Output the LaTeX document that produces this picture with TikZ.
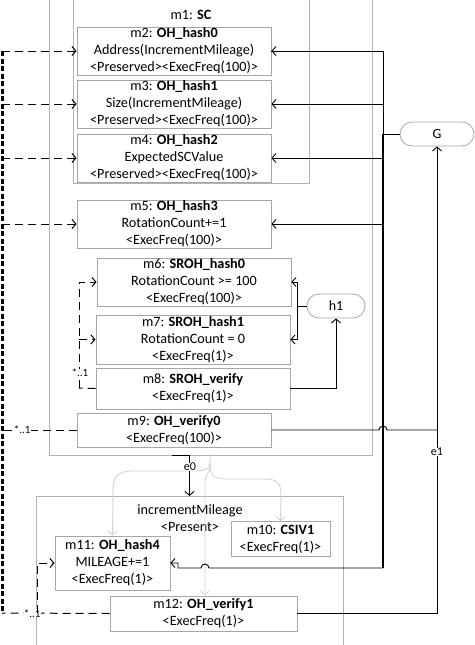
\documentclass[tikz,border=0pt]{standalone}
\usepackage{fontspec}
\setmainfont{Carlito}
\usepackage{tikz}
\usetikzlibrary{arrows.meta, positioning, calc}
\tikzset{
  mbox/.style={
    draw=gray!70, fill=white, align=center, line width=0.8pt,
    inner sep=0pt, minimum width=194, minimum height=48,
    font=\fontsize{14.2}{17}\selectfont
  },
  groupbox/.style={draw=gray!60, line width=0.8pt, inner sep=0pt, outer sep=0pt},
  grouptitle/.style={align=center, inner sep=0pt, font=\fontsize{14.2}{17}\selectfont},
  pill/.style={
    draw=gray!70, fill=white, line width=0.8pt, rounded corners=12pt,
    minimum height=24, font=\fontsize{14}{15}\selectfont
  },
  link/.style={line width=0.9pt},
  linkarrow/.style={link, -{Straight Barb[length=4pt,width=9pt]}},
  deplink/.style={line width=1pt, dash pattern=on 8pt off 5pt},
  deparrow/.style={deplink, -{Straight Barb[length=4pt,width=9pt]}},
  depbus/.style={line width=3pt, dash pattern=on 5pt off 2.5pt},
  flowarrow/.style={draw=gray!35, line width=0.9pt, -{Straight Barb[length=4pt,width=9pt]}},
  edgelabel/.style={font=\fontsize{12}{13}\selectfont, fill=white, inner sep=0.5pt},
  multlabel/.style={font=\fontsize{11}{12}\selectfont, fill=white, inner sep=0.3pt},
}

\begin{document}
\begin{tikzpicture}[x=1pt, y=-1pt]
  \useasboundingbox (0,0) rectangle (474,645);
  \clip (0,0) rectangle (474,645);

  % Containers
  \node[groupbox, minimum width=323, minimum height=475] (scouter) at (210.5,217.5) {};
  \node[groupbox, minimum width=236, minimum height=203] (scinner) at (191,81.5) {};
  \node[grouptitle] (sctitle) at (191,15) {m1: \textbf{SC}};
  \node[groupbox, minimum width=307, minimum height=169] (incbox) at (189.5,580.5) {};
  \node[grouptitle] (inctitle) at (190,518.5) {incrementMileage\\<Present>};

  % Members of SC
  \node[mbox] (m2) at (174,51) {m2: \textbf{OH\_hash0}\\Address(IncrementMileage)\\<Preserved><ExecFreq(100)>};
  \node[mbox] (m3) at (174,104) {m3: \textbf{OH\_hash1}\\Size(IncrementMileage)\\<Preserved><ExecFreq(100)>};
  \node[mbox] (m4) at (174,158) {m4: \textbf{OH\_hash2}\\ExpectedSCValue\\<Preserved><ExecFreq(100)>};
  \node[mbox] (m5) at (174,224) {m5: \textbf{OH\_hash3}\\RotationCount+=1\\<ExecFreq(100)>};
  \node[mbox] (m6) at (194,282) {m6: \textbf{SROH\_hash0}\\RotationCount >= 100\\<ExecFreq(100)>};
  \node[mbox, minimum height=49] (m7) at (193,339.5) {m7: \textbf{SROH\_hash1}\\RotationCount = 0\\<ExecFreq(1)>};
  \node[mbox, minimum height=41] (m8) at (193,388.5) {m8: \textbf{SROH\_verify}\\<ExecFreq(1)>};
  \node[mbox, minimum height=34] (m9) at (174,430) {m9: \textbf{OH\_verify0}\\<ExecFreq(100)>};

  % Members of incrementMileage
  \node[mbox, minimum width=99, minimum height=35] (m10) at (280.5,539) {m10: \textbf{CSIV1}\\<ExecFreq(1)>};
  \node[mbox, minimum width=115, minimum height=54] (m11) at (112.5,563) {m11: \textbf{OH\_hash4}\\MILEAGE+=1\\<ExecFreq(1)>};
  \node[mbox, minimum width=187, minimum height=35] (m12) at (203.5,613.5) {m12: \textbf{OH\_verify1}\\<ExecFreq(1)>};

  % Guards
  \node[pill, minimum width=58] (h1) at (336,306) {h1};
  \node[pill, minimum width=74] (G) at (437,134) {G};

  % Gray flows out of SC
  \coordinate (flowsrc) at (210,455);
  \draw[flowarrow] (flowsrc) -- (210,462) .. controls (210,470) and (205,471) .. (190,471)
    -- (133,471) .. controls (118,471) and (113,476) .. (113,490) -- (m11.north);
  \draw[flowarrow] (210,462) .. controls (210,478) and (215,479) .. (230,479)
    -- (265,479) .. controls (277,479) and (281,483) .. (281,495) -- (m10.north);
  \draw[flowarrow] (210,466) .. controls (210,474) and (205,474) .. (205,482) -- (m12.north -| 205,0);

  % G bus
  \coordinate (gbus) at (383,134);
  \coordinate (gbot) at (383,568);
  \draw[link] (G.west) -- (gbus);
  \draw[link] (gbus) |- (m2.east);
  \foreach \m in {m2,m3,m4,m5}
    \draw[linkarrow] (\m.east -| gbus) -- (\m.east);
  \draw[link, line width=1.5pt] (gbus) -- (gbot);
  \draw[linkarrow] (gbot) -- (209,568) arc[start angle=0, end angle=180, radius=4pt]
    -- (178,568) -- (178,563) -- (m11.east);

  % e1
  \draw[linkarrow] (m12.east) -| (G.south);
  \draw[link] (m9.east) -- (379,430) arc[start angle=180, end angle=0, radius=4pt] -- (m9.east -| G.south);
  \node[edgelabel] (e1) at (437,452) {e1};

  % h1
  \coordinate (hjoin) at (297,306);
  \draw[linkarrow] (m8.east) -| (h1.south);
  \draw[link] (h1.west) -- (hjoin);
  \draw[linkarrow] (hjoin) |- (m6.east);
  \draw[linkarrow] (hjoin) |- (m7.east);

  % e0
  \coordinate (e0start) at (172,455);
  \draw[linkarrow] (e0start) -| (incbox.north);
  \node[edgelabel] (e0) at (190,467) {e0};

  % dependency bus
  \coordinate (dtop) at (2,51);
  \coordinate (dbot) at (2,613);
  \draw[depbus] (dtop) -- (dbot);
  \foreach \m in {m2,m3,m4,m5}
    \draw[deparrow] (\m.west -| dtop) -- (\m.west);
  \draw[deplink] (m9.west) -- (m9.west -| dtop) node[multlabel, pos=0.73] {*..1};
  \draw[deplink] (m12.west) -- (dbot) node[multlabel, pos=0.72] {*..1};
  \coordinate (m11dep) at (37,613);
  \draw[deparrow] (m11dep) |- (m11.west);

  % SROH loop
  \coordinate (srohdep) at (79,388);
  \draw[deplink] (m8.west) -- (srohdep);
  \draw[deparrow] (srohdep) |- (m6.west);
  \draw[deparrow] (srohdep |- m7.west) -- (m7.west);
  \node[multlabel] (m8mult) at (80,373) {*..1};
\end{tikzpicture}
\end{document}
